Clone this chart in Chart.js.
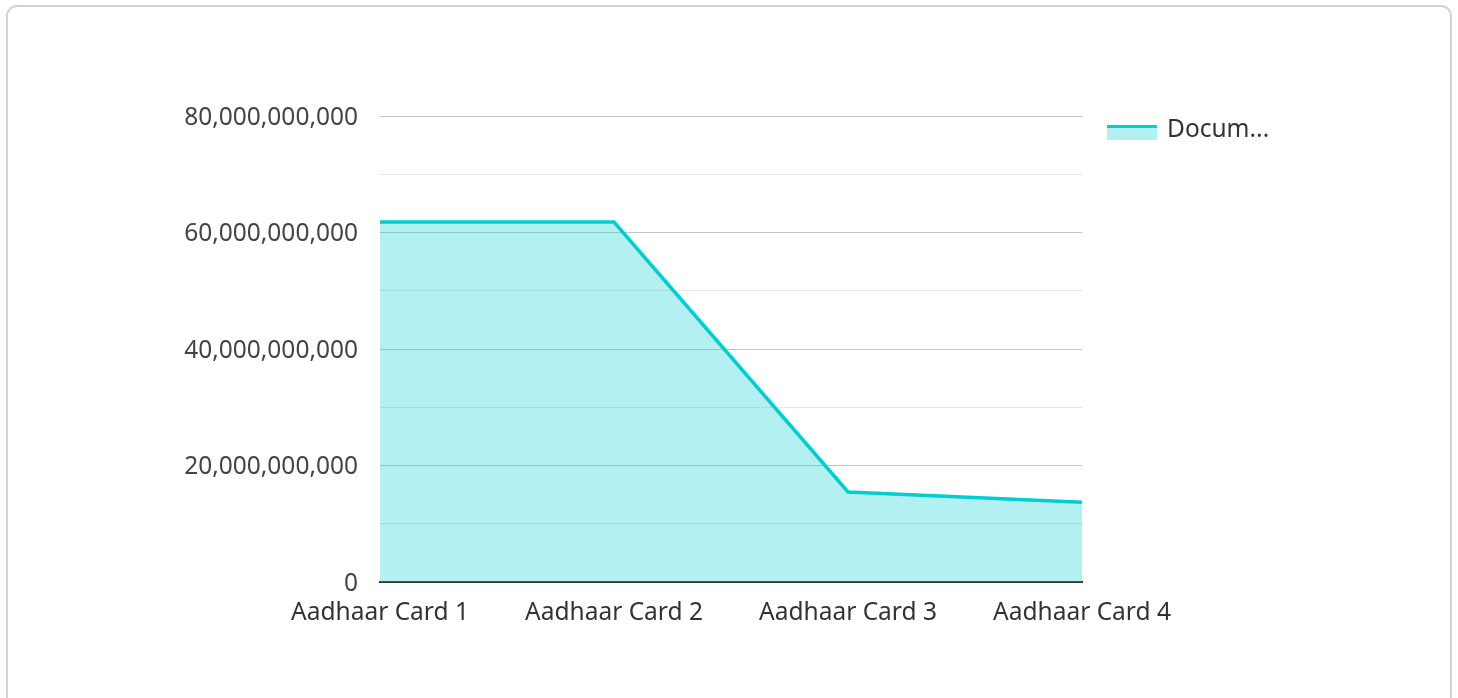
<!DOCTYPE html>
<html>
<head>
<meta charset="utf-8">
<script src="https://cdn.jsdelivr.net/npm/chart.js@4.4.1/dist/chart.umd.min.js"></script>
<style>
  html, body { margin: 0; padding: 0; background: #fff; overflow: hidden; }
  .card {
    position: absolute; left: 6px; top: 5px; width: 1442px; height: 720px;
    border: 2px solid #d3d3d3; border-radius: 11px; box-sizing: content-box;
  }
  #wrap { position: absolute; left: 0; top: 0; width: 1458px; height: 698px; }
</style>
</head>
<body>
<div class="card"></div>
<div id="wrap"><canvas id="chart"></canvas></div>
<script>
const categories = ["Aadhaar Card 1", "Aadhaar Card 2", "Aadhaar Card 3", "Aadhaar Card 4"]
const seriesLabel = "Docum..."
const seriesValues = [61800000000, 61800000000, 15450000000, 13700000000]
const yMin = 0
const yMax = 80000000000
const yStep = 10000000000

const teal = "#00CED1"
const tealFill = "rgba(0, 206, 209, 0.3)"
const font = "'Noto Sans', 'Open Sans', sans-serif"
const fontSize = 24.5

// legend drawn by hand so the box gets a line on top only
const sideLegend = {
  id: "sideLegend",
  afterDraw(chart) {
    const { ctx, chartArea } = chart
    const ds = chart.data.datasets[0]
    const x = chartArea.right + 25
    const y = chartArea.top + 9
    ctx.save()
    ctx.fillStyle = ds.backgroundColor
    ctx.fillRect(x, y, 50, 15)
    ctx.fillStyle = ds.borderColor
    ctx.fillRect(x, y, 50, 3)
    ctx.fillStyle = "#333"
    ctx.font = `${fontSize}px ${font}`
    ctx.textBaseline = "middle"
    ctx.fillText(ds.label, x + 60, y + 5)
    ctx.restore()
  }
}

new Chart(document.getElementById("chart"), {
  type: "line",
  data: {
    labels: categories,
    datasets: [{
      label: seriesLabel,
      data: seriesValues,
      borderColor: teal,
      backgroundColor: tealFill,
      borderWidth: 3.5,
      fill: "origin",
      tension: 0,
      pointRadius: 0
    }]
  },
  plugins: [sideLegend],
  options: {
    responsive: true,
    maintainAspectRatio: false,
    animation: false,
    layout: { padding: { top: 116, right: 376, bottom: 0, left: 0 } },
    plugins: {
      legend: { display: false },
      tooltip: { enabled: false }
    },
    scales: {
      x: {
        offset: false,
        grid: { display: false, drawTicks: false },
        border: { display: true, color: "#333", width: 2 },
        ticks: { color: "#333", font: { family: font, size: fontSize }, padding: 16, maxRotation: 0, autoSkip: false },
        afterFit: (s) => { s.height = 116 }
      },
      y: {
        min: yMin,
        max: yMax,
        grid: {
          drawTicks: false,
          color: (c) => (c.tick && c.tick.value % (2 * yStep) === 0 ? "#c4c4c4" : "#e6e6e6"),
          lineWidth: 1
        },
        border: { display: false },
        ticks: {
          stepSize: yStep,
          color: "#444",
          padding: 22,
          labelOffset: 2,
          font: { family: font, size: fontSize },
          callback: (v) => (v % (2 * yStep) === 0 ? v.toLocaleString("en-US") : "")
        },
        afterFit: (s) => { s.width = 380 }
      }
    }
  }
})
</script>
</body>
</html>
